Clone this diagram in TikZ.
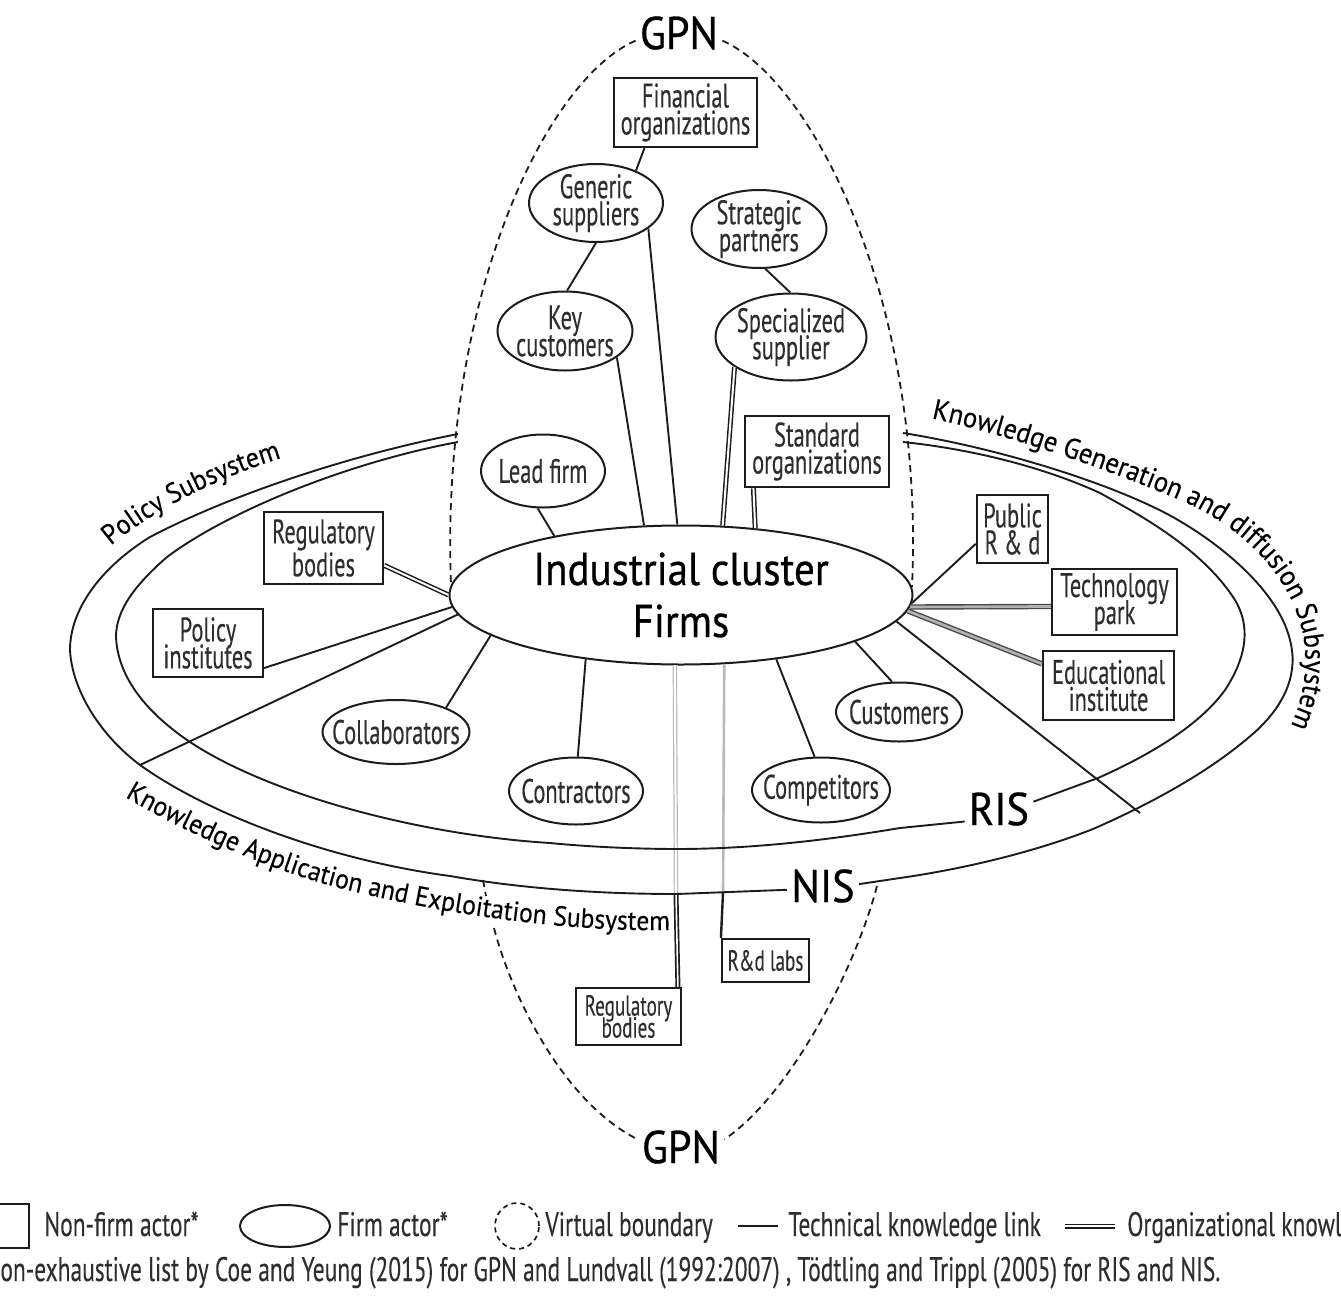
\documentclass[tikz,border=0pt]{standalone}
\usepackage{fontspec}
\usetikzlibrary{shapes.geometric,decorations.text}
\newfontfamily\labfont[FakeStretch=0.66,FakeBold=0.25]{PT Sans}
\newfontfamily\legfont[FakeStretch=0.69,FakeBold=0.2]{PT Sans}
\newfontfamily\bigfont[FakeStretch=0.89,FakeBold=0.6]{PT Sans}
\newfontfamily\tagfont[FakeStretch=0.92,FakeBold=0.6]{PT Sans}
\newfontfamily\curfont[FakeStretch=0.93,FakeBold=0.3]{PT Sans}
\definecolor{ink}{HTML}{1C1C1C}
\definecolor{txt}{HTML}{2E2E2E}
\def\curvea{\curfont\fontsize{14}{16}\selectfont}
\def\curveb{\curfont\fontsize{14.3}{16}\selectfont}
\def\curvec{\curfont\fontsize{13.8}{16}\selectfont}
\def\normlab{\labfont\fontsize{17}{13.5}\selectfont\lineskiplimit=-20pt\relax}
\def\smalllab{\labfont\fontsize{14.5}{11}\selectfont\lineskiplimit=-20pt\relax}
\def\biglab{\bigfont\fontsize{23}{26}\selectfont\lineskiplimit=-20pt\relax}
\tikzset{
  box/.style={draw=ink,line width=1.2pt,fill=white,inner sep=0pt},
  oval/.style={ellipse,draw=ink,line width=1pt,fill=white,inner sep=0pt},
  inl/.style={inner sep=0pt,align=center,text=txt,font=\normlab},
  inlsmall/.style={inner sep=0pt,align=center,text=txt,font=\smalllab},
  inlbig/.style={inner sep=0pt,align=center,text=black,font=\biglab},
  tag/.style={inner sep=2pt,text=black,font=\tagfont\fontsize{23}{26}\selectfont},
  legend/.style={inner sep=0pt,anchor=base west,text=txt,font=\legfont\fontsize{17}{18}\selectfont},
  tech/.style={draw=ink,line width=.95pt},
  org/.style={draw=ink,line width=.75pt,double=white,double distance=1pt},
  orggrey/.style={draw=ink!80,line width=.7pt,double=gray!60,double distance=1.3pt},
  faint/.style={draw=gray!55,line width=.6pt,double=white,double distance=1pt},
  faintone/.style={draw=gray!55,line width=1.3pt},
  ring/.style={draw=ink,line width=.95pt},
  bound/.style={draw=ink,line width=.9pt,dash pattern=on 3.5pt off 2.5pt},
  curved/.style={decorate,decoration={text along path,text align={center},text color=black,text={#1}}}
}
\begin{document}
\begin{tikzpicture}[x=.5pt,y=-.5pt]
\useasboundingbox[fill=white] (0,0) rectangle (1341,1296);
% labels of the boundaries
\node[tag] (gpnt) at (679,33) {GPN};
\node[tag] (gpnb) at (681,1147) {GPN};
\node[tag] (nis) at (823,886) {NIS};
\node[tag] (ris) at (999,809) {RIS};
% free ends
\coordinate (sepl) at (140,765);
\coordinate (sepr) at (1140,813);
\coordinate (stubt) at (483,880);
\coordinate (stubb) at (486,896);
\coordinate (gpnl) at (494,928);
\coordinate (gpnr) at (877,886);
\coordinate (nisa) at (676,893);
\coordinate (nisb) at (723,893);
% GPN dashed boundary
\draw[bound] (gpnt.190) .. controls (545,80) and (440,300) .. (451,585);
\draw[bound] (gpnt.-10) .. controls (812,80) and (925,300) .. (912,587);
\draw[bound] (stubt) -- (stubb);
\draw[bound] (gpnl) .. controls (510,990) and (560,1100) .. (gpnb.170);
\draw[bound] (gpnr) .. controls (855,970) and (790,1095) .. (gpnb.10);
% nodes
\node[oval,minimum width=231.5pt,minimum height=69.5pt,label={[inlbig]center:Industrial cluster\\Firms}] (clu) at (681,595) {};
\node[box,minimum width=71.5pt,minimum height=34.5pt,label={[inl]center:Financial\\organizations}] (fin) at (685.5,112.5) {};
\node[box,minimum width=72pt,minimum height=35.5pt,label={[inl]center:Standard\\organizations}] (std) at (817,451.5) {};
\node[box,minimum width=59.5pt,minimum height=36pt,label={[inl]center:Regulatory\\[3pt]bodies}] (reg) at (323.5,548) {};
\node[box,minimum width=55pt,minimum height=34pt,label={[inl]center:Policy\\institutes}] (pol) at (208,643) {};
\node[box,minimum width=35.5pt,minimum height=34pt,label={[inl]center:Public\\R \& d}] (pub) at (1012.5,529) {};
\node[box,minimum width=62.5pt,minimum height=33pt,label={[inl]center:Technology\\park}] (tec) at (1114.5,602) {};
\node[box,minimum width=65.5pt,minimum height=34.5pt,label={[inl]center:Educational\\institute}] (edu) at (1108.5,685.5) {};
\node[box,minimum width=43.5pt,minimum height=21.5pt,label={[inlsmall]center:R\&d labs}] (rnd) at (765.5,960.5) {};
\node[box,minimum width=52.5pt,minimum height=28.5pt,label={[inlsmall]center:Regulatory\\bodies}] (rgb) at (628.5,1016.5) {};
\node[oval,minimum width=67pt,minimum height=39pt,label={[inl]center:Generic\\suppliers}] (gen) at (596,203) {};
\node[oval,minimum width=67.5pt,minimum height=39pt,label={[inl]center:Strategic\\partners}] (str) at (759,229) {};
\node[oval,minimum width=67.5pt,minimum height=39.5pt,label={[inl]center:Key\\customers}] (key) at (565,331) {};
\node[oval,minimum width=75.5pt,minimum height=43.5pt,label={[inl]center:Specialized\\supplier}] (spe) at (791,337) {};
\node[oval,minimum width=62pt,minimum height=36.5pt,label={[inl]center:Lead firm}] (lea) at (543,471) {};
\node[oval,minimum width=73.5pt,minimum height=32pt,label={[inl]center:Collaborators}] (col) at (396,732) {};
\node[oval,minimum width=63pt,minimum height=29.5pt,label={[inl]center:Customers}] (cst) at (899,712) {};
\node[oval,minimum width=69pt,minimum height=32.5pt,label={[inl]center:Competitors}] (cmp) at (821,790) {};
\node[oval,minimum width=67pt,minimum height=33.5pt,label={[inl]center:Contractors}] (cot) at (576,791) {};
% connectors
\draw[tech] (fin.221.2) -- (gen.39.5);
\draw[tech] (gen.-90) -- (key.87);
\draw[tech] (gen.-26.6) -- (clu.93.3);
\draw[tech] (key.-27.4) -- (clu.118.8);
\draw[tech] (str.-81) -- (spe.91);
\draw[tech] (lea.262) -- (clu.155.4);
\draw[org] (spe.208) -- (clu.59.3);
\draw[org] (std.210) -- (clu.42);
\draw[org] (reg.-16) -- (clu.180.7);
\draw[tech] (pol.-24.4) -- (clu.183.8);
\draw[tech] (clu.185.9) -- (sepl);
\draw[tech] (col.26) -- (clu.192.4);
\draw[tech] (cot.87) -- (clu.214.4);
\draw[tech] (cmp.101) -- (clu.-34.7);
\draw[tech] (cst.103.6) -- (clu.-15);
\draw[tech] (clu.-7.4) -- (sepr);
\draw[orggrey] (edu.162.6) -- (clu.-4.6);
\draw[orggrey] (tec.184.6) -- (clu.-3);
\draw[tech] (pub.202.9) -- (clu.-2);
\draw[faint] (clu.265.9) -- (nisa);
\draw[org,double distance=.8pt,line width=.85pt] (nisa) -- (rgb.31);
\draw[faintone] (clu.-58.7) -- (nisb);
\draw[tech,line width=1.2pt] (nisb) -- (rnd.153);
% NIS and RIS rings
\draw[ring] (458,434) .. controls (350,455) and (230,495) .. (150,537) .. controls (100,568) and (70,610) .. (70,650) .. controls (72,690) and (100,735) .. (140,765) .. controls (210,815) and (330,860) .. (450,876) .. controls (530,890) and (610,894) .. (677,894) -- (nis.186);
\draw[ring] (nis.3) -- (900,878) .. controls (970,868) and (1040,850) .. (1093,829) .. controls (1150,804) and (1210,772) .. (1255,732) .. controls (1288,702) and (1298,670) .. (1290,640) .. controls (1278,590) and (1220,545) .. (1183,523) .. controls (1130,490) and (1010,450) .. (903,433);
\draw[ring] (458,442) .. controls (350,462) and (230,510) .. (167,557) .. controls (135,585) and (116,610) .. (116,637) .. controls (118,680) and (150,715) .. (190,742) .. controls (270,795) and (420,835) .. (550,843) .. controls (590,847) and (640,849) .. (677,849) .. controls (760,849) and (840,838) .. (900,828) -- (ris.200);
\draw[ring] (ris.12) -- (1098,778) .. controls (1150,755) and (1200,725) .. (1225,690) .. controls (1248,655) and (1250,625) .. (1235,600) .. controls (1200,545) and (1130,510) .. (1100,493) .. controls (1050,470) and (980,450) .. (903,442);
% text following the rings
\path[curved={|\curvea|Policy Subsystem}] (108,548) .. controls (150,512) and (215,478) .. (285,457);
\path[curved={|\curveb|Knowledge Generation and diffusion Subsystem}] (930,418) .. controls (1010,435) and (1110,470) .. (1187,503) .. controls (1250,532) and (1290,580) .. (1302,630) .. controls (1310,665) and (1303,700) .. (1290,727);
\path[curved={|\curvec|Knowledge Application and Exploitation Subsystem}] (125,797) .. controls (190,835) and (280,875) .. (360,893) .. controls (440,912) and (560,932) .. (670,930);
% legend
\coordinate (lega) at (0,1204);
\coordinate (legb) at (29,1204);
\coordinate (legc) at (29,1248);
\coordinate (legd) at (0,1248);
\draw[draw=ink,line width=1.1pt] (lega) -- (legb) -- (legc) -- (legd);
\node[legend] (t1) at (44,1236) {Non-firm actor*};
\node[ellipse,draw=ink,line width=1pt,minimum width=45pt,minimum height=21pt,inner sep=0pt] (lo) at (285,1226) {};
\node[legend] (t2) at (337,1236) {Firm actor*};
\node[ellipse,draw=ink,line width=.85pt,dash pattern=on 2.5pt off 2pt,minimum width=22pt,minimum height=23pt,inner sep=0pt] (lv) at (517,1226) {};
\node[legend] (t3) at (545,1236) {Virtual boundary};
\coordinate (l1a) at (738,1226);
\coordinate (l1b) at (778,1226);
\draw[tech] (l1a) -- (l1b);
\node[legend] (t4) at (788,1236) {Technical knowledge link};
\coordinate (l2a) at (1065,1226);
\coordinate (l2b) at (1115,1226);
\draw[org] (l2a) -- (l2b);
\node[legend] (t5) at (1127,1236) {Organizational knowl};
\node[legend] (t6) at (0,1281) {on-exhaustive list by Coe and Yeung (2015) for GPN and Lundvall (1992:2007) , Tödtling and Trippl (2005) for RIS and NIS.};
\end{tikzpicture}
\end{document}
